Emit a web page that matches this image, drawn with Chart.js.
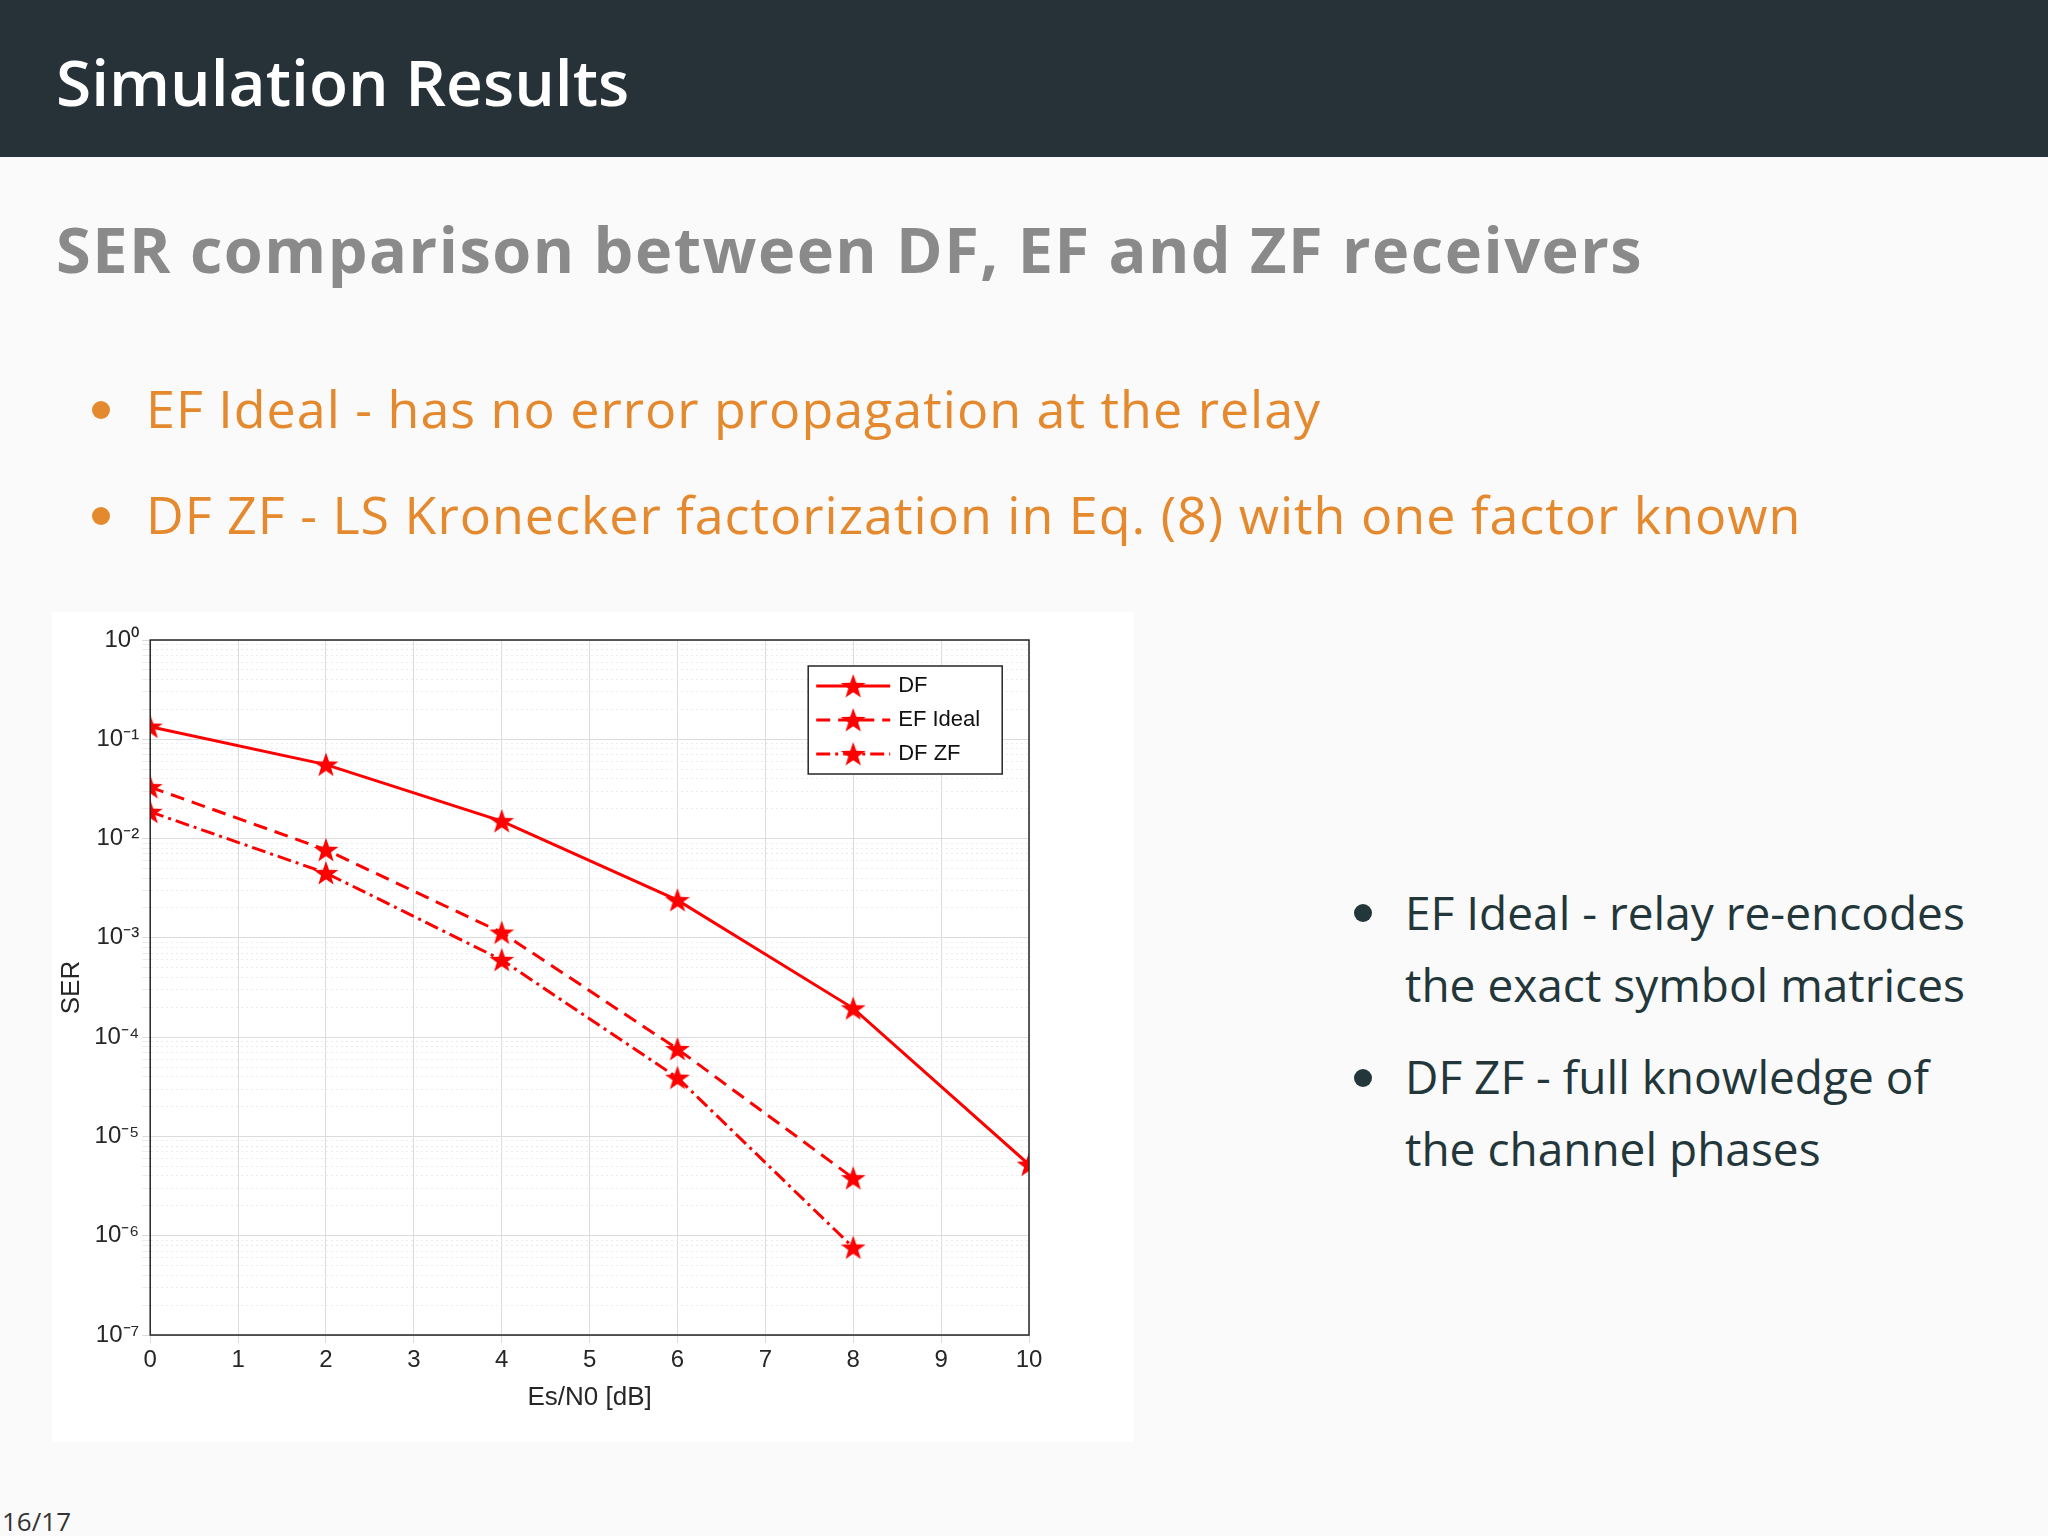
<!DOCTYPE html>
<html>
<head>
<meta charset="utf-8">
<script src="https://cdn.jsdelivr.net/npm/chart.js@4/dist/chart.umd.min.js"></script>
<style>
  body { margin:0; width:2048px; height:1536px; background:#fafafa; font-family:"Open Sans", "DejaVu Sans", sans-serif; position:relative; overflow:hidden; }
  .bar { position:absolute; left:0; top:0; width:2048px; height:157px; background:#263238; }
  .bar h1 { margin:0; position:absolute; left:56px; top:38px; color:#fff; font-size:64px; font-weight:600; }
  .sub { position:absolute; left:56px; top:206px; color:#8a8a8a; font-size:63px; font-weight:700; letter-spacing:1.5px; }
  .b { position:absolute; color:#e5892f; font-size:52px; letter-spacing:1px; }
  .r { position:absolute; color:#23373b; font-size:46px; line-height:72px; }
  .dot { position:absolute; width:18px; height:18px; border-radius:50%; }
  #wrap { position:absolute; left:52px; top:612px; width:1082px; height:830px; background:#fff; }
  .pg { position:absolute; left:2px; top:1503px; font-size:26px; color:#333; }
</style>
</head>
<body>
<div class="bar"><h1>Simulation Results</h1></div>
<div class="sub">SER comparison between DF, EF and ZF receivers</div>
<div class="dot" style="left:92px;top:401px;background:#e5892f"></div>
<div class="b" style="left:146px;top:372px">EF Ideal - has no error propagation at the relay</div>
<div class="dot" style="left:92px;top:507px;background:#e5892f"></div>
<div class="b" style="left:146px;top:478px">DF ZF - LS Kronecker factorization in Eq. (8) with one factor known</div>
<div class="dot" style="left:1354px;top:904px;background:#23373b"></div>
<div class="r" style="left:1405px;top:876px">EF Ideal - relay re-encodes<br>the exact symbol matrices</div>
<div class="dot" style="left:1354px;top:1069px;background:#23373b"></div>
<div class="r" style="left:1405px;top:1040px">DF ZF - full knowledge of<br>the channel phases</div>
<div id="wrap"><canvas id="c" width="1082" height="830"></canvas></div>
<div class="pg">16/17</div>
<script>
const snr = [0, 2, 4, 6, 8, 10];
const serDF = [0.134, 0.0556, 0.015, 0.0024, 1.95e-4, 5.2e-6];
const serEF = [0.033, 0.0077, 1.13e-3, 7.6e-5, 3.8e-6];
const serZF = [0.0186, 0.0045, 6.0e-4, 3.9e-5, 7.6e-7];
const yTicks = ["10⁰","10⁻¹","10⁻²","10⁻³","10⁻⁴","10⁻⁵","10⁻⁶","10⁻⁷"];

function starImg(size) {
  const c = document.createElement("canvas");
  c.width = c.height = size;
  const g = c.getContext("2d");
  g.beginPath();
  for (let i = 0; i < 10; i++) {
    const r = i % 2 ? size * 0.2 : size * 0.5;
    const a = -Math.PI / 2 + i * Math.PI / 5;
    g.lineTo(size / 2 + r * Math.cos(a), size / 2 + 1 + r * Math.sin(a));
  }
  g.closePath();
  g.fillStyle = "#ff0000";
  g.fill();
  return c;
}
const star = starImg(26);

const pts = (ys) => ys.map((y, i) => ({ x: snr[i], y: y }));
const ds = (label, ys, dash) => ({
  label, data: pts(ys), borderColor: "#ff0000", borderWidth: 3, borderDash: dash,
  pointStyle: star, pointRadius: 13, fill: false
});

const legendBox = {
  id: "legendBox",
  afterDraw(chart) {
    const { ctx, chartArea: a } = chart;
    ctx.save();
    ctx.strokeStyle = "#262626"; ctx.lineWidth = 1.5;
    ctx.strokeRect(a.left, a.top, a.right - a.left, a.bottom - a.top);
    const x = a.left + 658, y = a.top + 26, w = 194, h = 108;
    ctx.fillStyle = "#fff"; ctx.fillRect(x, y, w, h); ctx.strokeRect(x, y, w, h);
    ctx.font = "22px 'Liberation Sans', Arial"; ctx.textBaseline = "middle";
    chart.data.datasets.forEach((d, i) => {
      const yy = y + 20 + i * 34;
      ctx.strokeStyle = "#ff0000"; ctx.lineWidth = 3; ctx.setLineDash(d.borderDash);
      ctx.beginPath(); ctx.moveTo(x + 8, yy); ctx.lineTo(x + 82, yy); ctx.stroke();
      ctx.setLineDash([]);
      ctx.drawImage(star, x + 32, yy - 13);
      ctx.fillStyle = "#111"; ctx.fillText(d.label, x + 90, yy);
    });
    ctx.restore();
  }
};

const isMajor = (v) => Math.abs(Math.log10(v) - Math.round(Math.log10(v))) < 1e-6;

new Chart(document.getElementById("c"), {
  type: "line",
  data: { datasets: [ds("DF", serDF, []), ds("EF Ideal", serEF, [14, 8]), ds("DF ZF", serZF, [14, 5, 3, 5])] },
  options: {
    responsive: false, animation: false,
    layout: { padding: { top: 28, right: 105, left: 0, bottom: 25 } },
    plugins: { legend: { display: false }, tooltip: { enabled: false } },
    scales: {
      x: {
        type: "linear", min: 0, max: 10,
        ticks: { stepSize: 1, color: "#262626", font: { size: 24, family: "'Liberation Sans', Arial" } },
        grid: { color: "#dcdcdc", tickLength: 8 },
        title: { display: true, text: "Es/N0 [dB]", color: "#262626", font: { size: 26, family: "'Liberation Sans', Arial" } }
      },
      y: {
        type: "logarithmic", min: 1e-7, max: 1,
        afterBuildTicks(axis) {
          const t = [];
          for (let e = -7; e <= 0; e++) for (let m = 1; m < 10; m++) { const v = m * Math.pow(10, e); if (v <= 1) t.push({ value: v }); }
          axis.ticks = t;
        },
        ticks: {
          autoSkip: false, color: "#262626", font: { size: 24, family: "'Liberation Sans', Arial" },
          callback: (v) => isMajor(v) ? yTicks[-Math.round(Math.log10(v))] : ""
        },
        grid: {
          color: (c) => c.tick && isMajor(c.tick.value) ? "#dcdcdc" : "#ececec",
          tickLength: 8
        },
        border: { dash: (c) => c.tick && isMajor(c.tick.value) ? [] : [2, 3] },
        title: { display: true, text: "SER", color: "#262626", font: { size: 26, family: "'Liberation Sans', Arial" } }
      }
    }
  },
  plugins: [legendBox]
});
</script>
</body>
</html>
